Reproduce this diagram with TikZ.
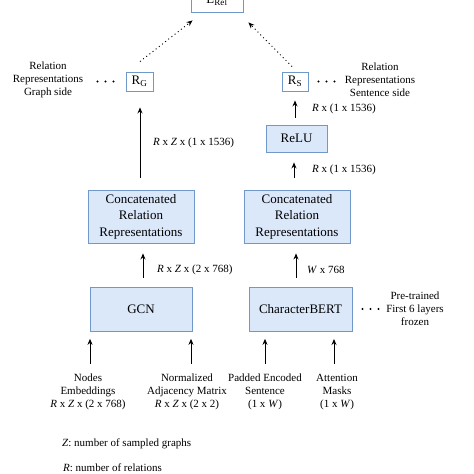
\documentclass[tikz,border=0pt]{standalone}
\usepackage{fontspec}
\setmainfont{Liberation Serif}
\usetikzlibrary{arrows.meta,calc}
\definecolor{boxfill}{RGB}{219,232,250}
\definecolor{boxdraw}{RGB}{112,152,200}
\tikzset{
  blk/.style={draw=boxdraw,fill=boxfill,line width=0.9pt,align=center,inner sep=0pt,
    font=\fontsize{13}{16.5}\selectfont},
  wbox/.style={draw=boxdraw,fill=white,line width=0.9pt,inner sep=0pt,
    font=\fontsize{13}{15}\selectfont},
  lbl/.style={align=center,inner sep=0pt,font=\fontsize{11}{13}\selectfont},
  dim/.style={anchor=west,inner sep=0pt,font=\fontsize{11}{13}\selectfont},
  arr/.style={-{Stealth[length=6pt,width=5pt]},line width=0.9pt},
  dotarr/.style={-{Stealth[length=6pt,width=5pt]},line width=0.9pt,dash pattern=on 1pt off 3pt},
  dotsline/.style={line width=2.2pt,line cap=round,dash pattern=on 0pt off 8pt}
}
\begin{document}
\begin{tikzpicture}[x=1pt,y=-1pt]
\useasboundingbox (0,0) rectangle (474,474);
\clip (0,0) rectangle (474,474);
% top loss
\node[wbox,minimum width=52pt,minimum height=24pt] (lrel) at (217,0) {\raisebox{-3pt}{L$_{\mathrm{Rel}}$}};
% relation representations
\node[wbox,minimum width=27pt,minimum height=19pt] (rg) at (139.5,81.5) {R$_{\mathrm{G}}$};
\node[wbox,minimum width=26pt,minimum height=19pt] (rs) at (295,81.5) {R$_{\mathrm{S}}$};
\node[lbl] (lblL) at (48,80) {Relation\\Representations\\Graph side};
\node[lbl] (lblR) at (380,80) {Relation\\Representations\\Sentence side};
% blocks
\node[blk,minimum width=61pt,minimum height=27pt] (relu) at (296.5,138.5) {ReLU};
\node[blk,minimum width=106pt,minimum height=53pt] (catL) at (141,216.5) {Concatenated\\Relation\\Representations};
\node[blk,minimum width=106pt,minimum height=53pt] (catR) at (297,216.5) {Concatenated\\Relation\\Representations};
\node[blk,minimum width=102pt,minimum height=44pt] (gcn) at (141,309) {GCN};
\node[blk,minimum width=103pt,minimum height=44pt] (cbert) at (300.5,309) {CharacterBERT};
\node[lbl] (pre) at (415,309) {Pre-trained\\First 6 layers\\frozen};
% inputs
\node[lbl] (in1) at (88,392) {Nodes\\Embeddings\\\textit{R} x \textit{Z} x (2 x 768)};
\node[lbl] (in2) at (187,392) {Normalized\\Adjacency Matrix\\\textit{R} x \textit{Z} x (2 x 2)};
\node[lbl] (in3) at (265,392) {Padded Encoded\\Sentence\\(1 x \textit{W})};
\node[lbl] (in4) at (337,392) {Attention\\Masks\\(1 x \textit{W})};
% input arrows (from label up to block)
\draw[arr] ($(in1.north)+(2,-10)$) -- ++(0,-25);
\draw[arr] ($(in2.north)+(4,-10)$) -- ++(0,-25);
\draw[arr] ($(in3.north)+(0,-10)$) -- ++(0,-25);
\draw[arr] ($(in4.north)+(-3,-10)$) -- ++(0,-25);
% vertical arrows
\draw[arr] ($(gcn.north)+(2,-9)$) -- ($(catL.south)+(2,10)$);
\draw[arr] ($(cbert.north)+(-4.5,-9)$) -- ($(catR.south)+(-1,10)$);
\draw[arr] ($(catL.north)+(-1,-12)$) -- ($(rg.south)+(0.5,16)$);
\draw[arr] ($(catR.north)+(-3,-12)$) -- ($(relu.south)+(-2.5,10)$);
\draw[arr] ($(relu.north)+(-1.5,-7)$) -- ($(rs.south)+(0,9)$);
% dotted arrows to loss
\draw[dotarr] ($(rg.north)+(0.5,-10)$) -- ($(lrel.south west)+(2,8)$);
\draw[dotarr] ($(rs.north)+(-3,-5)$) -- ($(lrel.south east)+(5,10)$);
% dim labels
\node[dim] (d1) at (153,143) {\textit{R} x \textit{Z} x (1 x 1536)};
\node[dim] (d2) at (312,109) {\textit{R} x (1 x 1536)};
\node[dim] (d3) at (312,170) {\textit{R} x (1 x 1536)};
\node[dim] (d4) at (157,270) {\textit{R} x \textit{Z} x (2 x 768)};
\node[dim] (d5) at (307,270) {\textit{W} x 768};
% dots
\draw[dotsline] ($(rg.west)+(-28,0)$) -- ($(rg.west)+(-11.5,0)$);
\draw[dotsline] ($(rs.east)+(10,0)$) -- ($(rs.east)+(26.5,0)$);
\draw[dotsline] ($(cbert.east)+(10,0)$) -- ($(cbert.east)+(26.5,0)$);
% footnotes
\node[dim] (f1) at (62,444) {\textit{Z}: number of sampled graphs};
\node[dim] (f2) at (63,468) {\textit{R}: number of relations};
\end{tikzpicture}
\end{document}
